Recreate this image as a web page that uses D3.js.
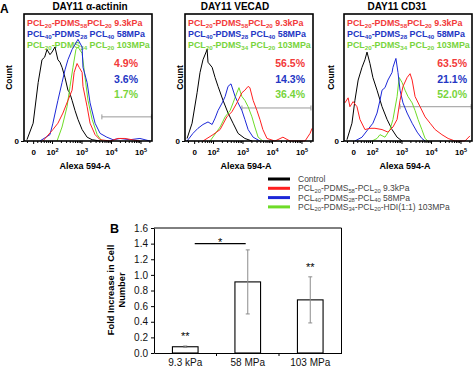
<!DOCTYPE html>
<html>
<head>
<meta charset="utf-8">
<script src="https://cdn.jsdelivr.net/npm/d3@7"></script>
<style>
  body { margin: 0; background: #fff; }
  svg text { font-family: "Liberation Sans", Arial, sans-serif; }
</style>
</head>
<body>
<svg id="chart" width="474" height="368"></svg>
<script>
// ---- panel A data: histogram curves as [display decade, % of max count] ----
const panelTitles = ["DAY11 α-actinin", "DAY11 VECAD", "DAY11 CD31"];
const xTickValues = [1.36, 2, 3, 4, 5];          // biexponential display position of 0, 10^2 ... 10^5
const xTickLabels = ["0", "10^{2}", "10^{3}", "10^{4}", "10^{5}"];
const legendRows = ["PCL_{20}-PDMS_{58}PCL_{20} 9.3kPa", "PCL_{40}-PDMS_{28} PCL_{40} 58MPa", "PCL_{20}-PDMS_{34} PCL_{20} 103MPa"];
const pctSoft  = ["4.9%", "56.5%", "63.5%"];
const pctMid   = ["3.6%", "14.3%", "21.1%"];
const pctStiff = ["1.7%", "36.4%", "52.0%"];
const gateStart = [3.69, 2.98, 2.95];
const gateEnd   = [5.37, 5.32, 5.36];
const gateLevel = [19, 26, 27];

const actininControl = [[1.15,1],[1.36,14],[1.53,46],[1.66,64],[1.75,66],[1.83,72],[1.93,68],[2.0,70],[2.1,74],[2.2,64],[2.27,62],[2.34,58],[2.44,50],[2.54,40],[2.6,38],[2.68,32],[2.78,24],[2.88,17],[3.02,9],[3.19,3],[3.36,1],[3.63,0]];
const actininSoft    = [[1.69,0],[2.03,9],[2.2,14],[2.37,22],[2.54,32],[2.68,40],[2.75,54],[2.85,61],[2.92,58],[3.02,54],[3.05,43],[3.19,27],[3.29,14],[3.46,5],[3.63,1],[3.97,0],[4.24,2],[4.47,2],[4.71,1],[4.98,0]];
const actininMid     = [[1.59,0],[1.93,5],[2.03,14],[2.2,32],[2.34,46],[2.44,56],[2.54,64],[2.68,72],[2.78,76],[2.88,80],[3.02,74],[3.05,58],[3.19,46],[3.29,30],[3.46,14],[3.63,6],[3.86,3],[4.07,1],[4.31,2],[4.64,1],[4.98,2],[5.32,0]];
const actininStiff   = [[2.17,0],[2.34,11],[2.51,27],[2.61,43],[2.71,58],[2.81,72],[2.88,74],[3.02,69],[3.12,50],[3.22,32],[3.36,17],[3.53,5],[3.69,0]];

const vecadControl = [[1.12,2],[1.29,14],[1.46,38],[1.56,54],[1.66,64],[1.8,72],[1.83,62],[1.97,58],[2.07,50],[2.17,43],[2.34,32],[2.51,22],[2.68,14],[2.85,6],[3.08,2],[3.32,0]];
const vecadSoft    = [[1.66,0],[2.0,5],[2.24,9],[2.47,19],[2.64,23],[2.81,30],[2.98,38],[3.08,40],[3.19,43],[3.25,42],[3.36,32],[3.49,24],[3.59,17],[3.69,9],[3.83,2],[4.1,0],[4.37,3],[4.61,0],[5.12,0],[5.29,6],[5.36,10]];
const vecadMid     = [[1.12,0],[1.32,6],[1.49,10],[1.66,13],[1.83,15],[1.97,13],[2.07,18],[2.17,24],[2.31,30],[2.41,35],[2.51,43],[2.61,45],[2.75,35],[2.85,30],[2.98,24],[3.08,17],[3.19,9],[3.36,3],[3.59,0]];
const vecadStiff   = [[1.9,0],[2.24,11],[2.41,19],[2.58,24],[2.68,30],[2.81,38],[2.88,42],[2.98,35],[3.08,32],[3.19,27],[3.32,19],[3.42,11],[3.53,3],[3.69,0]];

const cd31Control = [[1.15,1],[1.32,14],[1.42,32],[1.53,48],[1.66,58],[1.76,64],[1.83,70],[1.93,61],[2.03,50],[2.17,40],[2.34,27],[2.51,17],[2.68,9],[2.85,3],[3.02,0]];
const cd31Soft    = [[1.08,30],[1.19,34],[1.25,27],[1.36,31],[1.49,27],[1.59,17],[1.76,9],[1.93,10],[2.1,10],[2.34,9],[2.54,7],[2.71,11],[2.85,17],[2.95,32],[3.05,43],[3.19,50],[3.29,53],[3.36,48],[3.46,35],[3.63,27],[3.8,19],[3.97,14],[4.14,9],[4.37,5],[4.58,2],[4.81,0],[5.15,0],[5.32,4]];
const cd31Mid     = [[1.42,0],[1.66,3],[1.86,9],[2.03,14],[2.17,22],[2.27,32],[2.34,40],[2.44,42],[2.54,48],[2.68,54],[2.71,58],[2.81,65],[2.88,54],[2.95,40],[3.05,30],[3.19,22],[3.36,14],[3.53,7],[3.69,2],[3.8,0]];
const cd31Stiff   = [[2.0,0],[2.17,2],[2.27,5],[2.44,3],[2.61,9],[2.71,17],[2.85,35],[2.92,50],[3.02,46],[3.12,40],[3.22,35],[3.36,30],[3.46,24],[3.56,17],[3.69,9],[3.8,2],[3.9,0]];

// ---- panel B data ----
const barLabels = ["9.3 kPa", "58 MPa", "103 MPa"];
const barMeans  = [0.08, 0.91, 0.68];
const barErrors = [0.01, 0.41, 0.295];
const barStars  = ["**", "", "**"];
const bLegend   = ["Control", "PCL_{20}-PDMS_{58}-PCL_{20} 9.3kPa", "PCL_{40}-PDMS_{28}-PCL_{40} 58MPa", "PCL_{20}-PDMS_{34}-PCL_{20}-HDI(1:1) 103MPa"];

// ---- styles / layout ----
const colors = { control: "#000", soft: "#ff2020", mid: "#1c28d8", stiff: "#6edc28" };
const textColors = { soft: "#f23a3a", mid: "#2436c4", stiff: "#78d43c" };
const panelLeft = [24, 185, 344], panelW = 128, panelTop = 14, panelBottom = 141;
const titleX = [90, 235, 397], countX = [9, 180, 331], pctRight = [138, 305, 467];

const svg = d3.select("#chart");

// writes "A_{sub}" / "A^{sup}" strings as tspans
function rich(text, str, small, shift) {
  let state = 0;
  str.split(/([_^]\{[^}]*\})/).filter(s => s).forEach(s => {
    let kind = 0, txt = s;
    if (s.startsWith("_{")) { kind = 1; txt = s.slice(2, -1); }
    else if (s.startsWith("^{")) { kind = -1; txt = s.slice(2, -1); }
    const t = text.append("tspan").text(txt);
    if (kind) t.attr("font-size", small);
    const dy = (kind - state) * shift;
    if (dy) t.attr("dy", dy);
    state = kind;
  });
}

svg.append("text").attr("x", 0).attr("y", 13).attr("font-size", 12).attr("font-weight", "bold").text("A");

const panels = [
  { curves: [actininControl, actininStiff, actininMid, actininSoft] },
  { curves: [vecadControl, vecadStiff, vecadMid, vecadSoft] },
  { curves: [cd31Control, cd31Stiff, cd31Mid, cd31Soft] }
];
const curveColors = [colors.control, colors.stiff, colors.mid, colors.soft];
const minorTicks = [1.15, 1.5, 1.62, 1.72, 1.8, 1.87, 1.93]
  .concat(d3.range(2, 5).flatMap(d => d3.range(2, 10).map(k => d + Math.log10(k))))
  .concat([5 + Math.log10(2)]);

panels.forEach((p, i) => {
  const L = panelLeft[i];
  const x = d3.scaleLinear().domain([1.05, 5.39]).range([L, L + panelW]);
  const y = d3.scaleLinear().domain([0, 100]).range([panelBottom, panelTop]);
  const g = svg.append("g");

  g.append("text").attr("x", titleX[i]).attr("y", 10).attr("text-anchor", "middle")
    .attr("font-size", 10).attr("font-weight", "bold").text(panelTitles[i]);

  // legend text inside frame
  const rowColors = [textColors.soft, textColors.mid, textColors.stiff];
  legendRows.forEach((r, k) => {
    const t = g.append("text").attr("x", L + 3).attr("y", 26 + k * 11)
      .attr("font-size", 8.9).attr("font-weight", "bold").attr("fill", rowColors[k]);
    rich(t, r, 6.2, 2);
  });
  [pctSoft, pctMid, pctStiff].forEach((arr, k) => {
    g.append("text").attr("x", pctRight[i]).attr("y", 67 + k * 15.5).attr("text-anchor", "end")
      .attr("font-size", 10.5).attr("font-weight", "bold").attr("fill", rowColors[k]).text(arr[i]);
  });

  // gate
  const gy = y(gateLevel[i]);
  g.append("line").attr("x1", x(gateStart[i])).attr("x2", x(gateEnd[i])).attr("y1", gy).attr("y2", gy)
    .attr("stroke", "#9a9a9a").attr("stroke-width", 1);
  [gateStart[i], gateEnd[i]].forEach(v => g.append("line").attr("x1", x(v)).attr("x2", x(v))
    .attr("y1", gy - 2.5).attr("y2", gy + 2.5).attr("stroke", "#9a9a9a"));

  // curves
  const line = d3.line().x(d => x(d[0])).y(d => y(d[1]));
  p.curves.forEach((c, k) => {
    g.append("path").datum(c).attr("d", line).attr("fill", "none")
      .attr("stroke", curveColors[k]).attr("stroke-width", 1);
  });

  // frame
  g.append("rect").attr("x", L).attr("y", panelTop).attr("width", panelW).attr("height", panelBottom - panelTop)
    .attr("fill", "none").attr("stroke", "#000").attr("stroke-width", 1.6);

  // axes
  const xa = g.append("g").attr("transform", `translate(0,${panelBottom})`)
    .call(d3.axisBottom(x).tickValues(xTickValues).tickSize(3).tickFormat(""));
  xa.select(".domain").remove();
  xa.selectAll(".tick text").remove();
  xa.selectAll(".tick").each(function(d, j) {
    const t = d3.select(this).append("text").attr("y", 14).attr("text-anchor", "middle")
      .attr("font-size", 8).attr("font-weight", "bold").attr("fill", "#000");
    rich(t, xTickLabels[j], 5.5, 3);
  });
  const xm = g.append("g").attr("transform", `translate(0,${panelBottom})`)
    .call(d3.axisBottom(x).tickValues(minorTicks).tickSize(2).tickFormat(""));
  xm.select(".domain").remove();

  const ya = g.append("g").attr("transform", `translate(${L},0)`)
    .call(d3.axisLeft(y).tickValues([0]).tickSize(3).tickPadding(2));
  ya.select(".domain").remove();
  ya.selectAll(".tick text").attr("font-size", 8).attr("font-weight", "bold").attr("font-family", null);

  g.append("text").attr("transform", `translate(${countX[i]},${(panelTop + panelBottom) / 2}) rotate(-90)`)
    .attr("text-anchor", "middle").attr("dy", "0.35em").attr("font-size", 8.5).attr("font-weight", "bold").text("Count");
  g.append("text").attr("x", L + panelW / 2 - 3).attr("y", 169).attr("text-anchor", "middle")
    .attr("font-size", 9).attr("font-weight", "bold").text("Alexa 594-A");
});

// ---- shared legend ----
const legColors = [colors.control, colors.soft, colors.mid, colors.stiff];
bLegend.forEach((s, k) => {
  const yy = 179 + k * 9.3;
  svg.append("line").attr("x1", 268).attr("x2", 290).attr("y1", yy).attr("y2", yy)
    .attr("stroke", legColors[k]).attr("stroke-width", 3);
  const t = svg.append("text").attr("x", 298).attr("y", yy + 3).attr("font-size", 8.5).attr("fill", "#444");
  rich(t, s, 5.8, 1.5);
});

// ---- panel B ----
const bx = d3.scaleBand().domain(barLabels).range([154, 341.5]).paddingInner(0.59).paddingOuter(0.295);
const by = d3.scaleLinear().domain([0, 1.6]).range([353, 228]);
const gb = svg.append("g");

gb.append("text").attr("x", 110).attr("y", 233).attr("font-size", 12.5).attr("font-weight", "bold").text("B");

gb.selectAll(".bar").data(barMeans).enter().append("rect")
  .attr("x", (d, i) => bx(barLabels[i])).attr("width", bx.bandwidth())
  .attr("y", d => by(d)).attr("height", d => by(0) - by(d))
  .attr("fill", "#fff").attr("stroke", "#000").attr("stroke-width", 1.1);

barMeans.forEach((m, i) => {
  const cx = bx(barLabels[i]) + bx.bandwidth() / 2;
  const lo = by(m - barErrors[i]), hi = by(m + barErrors[i]);
  gb.append("line").attr("x1", cx).attr("x2", cx).attr("y1", lo).attr("y2", hi).attr("stroke", "#8c8c8c");
  [lo, hi].forEach(v => gb.append("line").attr("x1", cx - 2).attr("x2", cx + 2).attr("y1", v).attr("y2", v).attr("stroke", "#8c8c8c"));
  if (barStars[i]) gb.append("text").attr("x", cx).attr("y", hi - 6).attr("text-anchor", "middle")
    .attr("font-size", 11).text(barStars[i]);
});

// significance bracket between 9.3 kPa and 58 MPa
const sx1 = bx(barLabels[0]) + bx.bandwidth() * 0.87, sx2 = bx(barLabels[1]) + bx.bandwidth() * 0.42;
gb.append("line").attr("x1", sx1).attr("x2", sx2).attr("y1", by(1.4)).attr("y2", by(1.4)).attr("stroke", "#000").attr("stroke-width", 1.2);
gb.append("text").attr("x", (sx1 + sx2) / 2).attr("y", by(1.4) + 2).attr("text-anchor", "middle").attr("font-size", 11).text("*");

// box
gb.append("path").attr("d", `M154,228H341.5V353`).attr("fill", "none").attr("stroke", "#000").attr("stroke-width", 1);

const byAxis = gb.append("g").attr("transform", "translate(154,0)")
  .call(d3.axisLeft(by).tickValues(d3.range(0, 1.61, 0.2)).tickFormat(d3.format(".1f")).tickSize(3).tickSizeOuter(0));
byAxis.selectAll("text").attr("font-size", 10).attr("font-family", null).attr("fill", "#111");

const bxAxis = gb.append("g").attr("transform", "translate(0,353)")
  .call(d3.axisBottom(bx).tickSize(0).tickPadding(6).tickSizeOuter(0));
bxAxis.selectAll("text").attr("font-size", 10).attr("font-family", null).attr("fill", "#111");
// ticks at category boundaries
barLabels.slice(1).forEach(l => {
  const tx = bx(l) - bx.step() * bx.paddingInner() / 2;
  gb.append("line").attr("x1", tx).attr("x2", tx).attr("y1", 353).attr("y2", 356).attr("stroke", "#000");
});

const yt = gb.append("text").attr("transform", "translate(114,290) rotate(-90)")
  .attr("text-anchor", "middle").attr("font-size", 9.3).attr("font-weight", "bold");
yt.append("tspan").attr("x", 0).attr("dy", 0).text("Fold Increase in Cell");
yt.append("tspan").attr("x", 0).attr("dy", 11).text("Number");
</script>
</body>
</html>
